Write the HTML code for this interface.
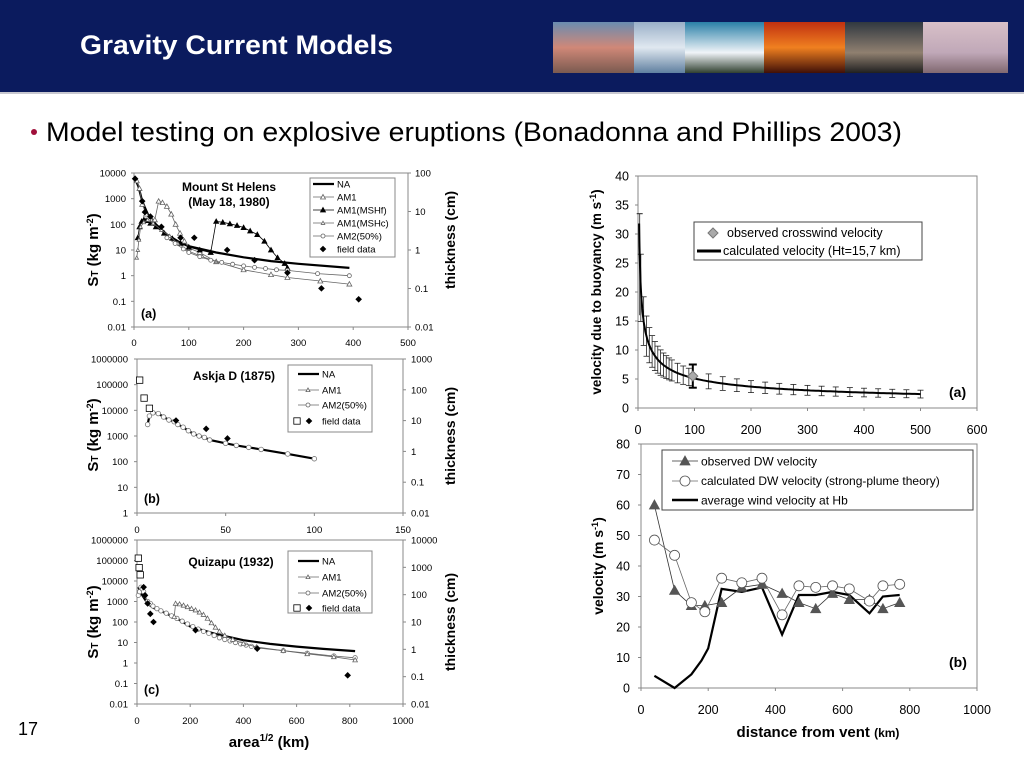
<!DOCTYPE html>
<html><head><meta charset="utf-8"><style>
body{margin:0;background:#fff;width:1024px;height:768px;overflow:hidden;font-family:"Liberation Sans",Arial,sans-serif}
svg{position:absolute;left:0;top:0}
</style></head><body>
<svg id="s" width="1024" height="768" viewBox="0 0 1024 768" font-family="Liberation Sans, Arial, sans-serif">
<defs>
<linearGradient id="g1" x1="0" y1="0" x2="0" y2="1"><stop offset="0" stop-color="#6a8cb0"/><stop offset="0.5" stop-color="#d08878"/><stop offset="1" stop-color="#7a5a50"/></linearGradient>
<linearGradient id="g2" x1="0" y1="0" x2="0" y2="1"><stop offset="0" stop-color="#9ab0c8"/><stop offset="0.5" stop-color="#e0e8f0"/><stop offset="1" stop-color="#6080a0"/></linearGradient>
<linearGradient id="g3" x1="0" y1="0" x2="0" y2="1"><stop offset="0" stop-color="#2a80a8"/><stop offset="0.6" stop-color="#f0f4f8"/><stop offset="1" stop-color="#304030"/></linearGradient>
<linearGradient id="g4" x1="0" y1="0" x2="0" y2="1"><stop offset="0" stop-color="#c03010"/><stop offset="0.5" stop-color="#f08020"/><stop offset="1" stop-color="#401008"/></linearGradient>
<linearGradient id="g5" x1="0" y1="0" x2="0" y2="1"><stop offset="0" stop-color="#303840"/><stop offset="0.6" stop-color="#908070"/><stop offset="1" stop-color="#202020"/></linearGradient>
<linearGradient id="g6" x1="0" y1="0" x2="0" y2="1"><stop offset="0" stop-color="#d8c0c8"/><stop offset="0.6" stop-color="#c0a8b8"/><stop offset="1" stop-color="#806870"/></linearGradient>
</defs>
<rect x="0" y="0" width="1024" height="92" fill="#0b1b5e"/>
<rect x="0" y="92" width="1024" height="2" fill="#c8c8d0"/>
<text x="80" y="54" fill="#fff" font-size="27" font-weight="bold" textLength="313" lengthAdjust="spacingAndGlyphs">Gravity Current Models</text>
<rect x="553" y="22" width="81" height="51" fill="url(#g1)"/>
<rect x="634" y="22" width="51" height="51" fill="url(#g2)"/>
<rect x="685" y="22" width="79" height="51" fill="url(#g3)"/>
<rect x="764" y="22" width="81" height="51" fill="url(#g4)"/>
<rect x="845" y="22" width="78" height="51" fill="url(#g5)"/>
<rect x="923" y="22" width="85" height="51" fill="url(#g6)"/>
<circle cx="34" cy="132" r="3" fill="#a0103a"/>
<text x="46" y="141" font-size="27" fill="#000" textLength="856" lengthAdjust="spacingAndGlyphs">Model testing on explosive eruptions (Bonadonna and Phillips 2003)</text>
<text x="18" y="735" font-size="18" fill="#000">17</text>
<g id="plots"></g>
</svg>
<script>
var NS="http://www.w3.org/2000/svg",P=document.getElementById('plots');
function el(t,a,txt){var e=document.createElementNS(NS,t);for(var k in a)e.setAttribute(k,a[k]);if(txt!=null)e.textContent=txt;P.appendChild(e);return e;}
function txt(x,y,s,o){o=o||{};var a={x:x,y:y,'font-size':o.fs||10,fill:'#000'};if(o.anchor)a['text-anchor']=o.anchor;if(o.bold)a['font-weight']='bold';if(o.rot)a.transform='rotate(-90 '+x+' '+y+')';return el('text',a,s);}
function line(pts,o){el('polyline',{points:pts.map(function(p){return p[0].toFixed(1)+','+p[1].toFixed(1)}).join(' '),fill:'none',stroke:o.c||'#000','stroke-width':o.w||1});}
function mark(x,y,t,sz,col){col=col||'#000';
 if(t=='o')el('circle',{cx:x,cy:y,r:sz,fill:'#fff',stroke:col,'stroke-width':0.8});
 else if(t=='to')el('polygon',{points:[x,y-sz,x-sz,y+sz*0.8,x+sz,y+sz*0.8].join(' '),fill:'#fff',stroke:col,'stroke-width':0.8});
 else if(t=='tf')el('polygon',{points:[x,y-sz,x-sz,y+sz*0.8,x+sz,y+sz*0.8].join(' '),fill:col,stroke:col,'stroke-width':0.8});
 else if(t=='d')el('polygon',{points:[x,y-sz,x+sz,y,x,y+sz,x-sz,y].join(' '),fill:col});
 else if(t=='s')el('rect',{x:x-sz,y:y-sz,width:2*sz,height:2*sz,fill:'#fff',stroke:col,'stroke-width':0.8});
}
function series(d,X,Y,o){var p=d.map(function(q){return[X(q[0]),Y(q[1])]});if(o.line!==false)line(p,o);if(o.m)p.forEach(function(q){mark(q[0],q[1],o.m,o.sz||2.5,o.mc)});}
function box(x0,y0,x1,y1){el('rect',{x:x0,y:y0,width:x1-x0,height:y1-y0,fill:'none',stroke:'#888','stroke-width':1});}
// ---------- chart a ----------
(function(){var x0=134,x1=408,y0=173,y1=327;
var X=function(v){return x0+v*(x1-x0)/500},Y=function(v){return y1-(Math.log10(v)+2)*(y1-y0)/6};
box(x0,y0,x1,y1);
var L=['0.01','0.1','1','10','100','1000','10000'],R=['0.01','0.1','1','10','100'];
for(var i=0;i<7;i++){var y=y1-i*(y1-y0)/6;txt(126,y+3.5,L[i],{anchor:'end',fs:9.5});el('line',{x1:x0-3,y1:y,x2:x0,y2:y,stroke:'#888'});}
for(var i=0;i<5;i++){var y=y1-i*(y1-y0)/4;txt(415,y+3.5,R[i],{fs:9.5});el('line',{x1:x1,y1:y,x2:x1+3,y2:y,stroke:'#888'});}
for(var i=0;i<=5;i++){var x=X(i*100);txt(x,346,String(i*100),{anchor:'middle',fs:9.5});el('line',{x1:x,y1:y1,x2:x,y2:y1+3,stroke:'#888'});}
series([[2,6000],[8,3000],[15,800],[25,250],[40,100],[60,40],[80,22],[100,14],[150,8],[200,5.2],[250,3.7],[300,2.9],[393,2]],X,Y,{w:2.2});
series([[5,5000],[10,2500],[15,600],[22,250],[30,160],[38,150],[45,800],[52,700],[60,500],[68,250],[76,100],[84,45],[92,22],[100,12],[120,8],[150,3.5],[200,1.7],[250,1.1],[280,0.85],[340,0.62],[393,0.47]],X,Y,{c:'#666',w:0.8,m:'to',sz:2.5,mc:'#666'});
series([[7,30],[10,80],[14,130],[18,150],[22,140],[30,110],[40,80],[55,45],[70,28],[85,18],[100,13],[120,10],[140,8],[150,130],[162,120],[175,105],[188,90],[200,75],[212,55],[225,40],[238,22],[250,10],[262,5],[275,3],[280,2]],X,Y,{c:'#000',w:0.8,m:'tf',sz:2.5});
series([[5,5],[7,10],[9,25],[12,80],[18,120],[25,150],[35,110],[50,60],[65,35],[80,18],[100,9],[125,5.5],[150,3.6]],X,Y,{c:'#666',w:0.8,m:'to',sz:1.8,mc:'#666'});
series([[60,30],[75,18],[90,11],[100,8],[120,5.5],[140,4],[160,3.3],[180,2.8],[200,2.4],[220,2.1],[240,1.9],[260,1.7],[280,1.6],[335,1.2],[393,1]],X,Y,{c:'#666',w:0.8,m:'o',sz:2,mc:'#666'});
[[2,6000],[15,800],[20,300],[30,200],[50,80],[85,30],[110,30],[170,10],[220,4],[280,1.3],[342,0.32],[410,0.12]].forEach(function(p){mark(X(p[0]),Y(p[1]),'d',3.3)});
box(310,178,395,257);
var ly=[184,197,210,223,236,249],ln=['NA','AM1','AM1(MSHf)','AM1(MSHc)','AM2(50%)','field data'];
for(var i=0;i<6;i++)txt(337,ly[i]+3.5,ln[i],{fs:9.5});
line([[313,ly[0]],[334,ly[0]]],{w:2.2});line([[313,ly[1]],[334,ly[1]]],{c:'#666',w:0.8});mark(323,ly[1],'to',2.5,'#666');
line([[313,ly[2]],[334,ly[2]]],{w:0.8});mark(323,ly[2],'tf',2.5);line([[313,ly[3]],[334,ly[3]]],{c:'#666',w:0.8});mark(323,ly[3],'to',1.8,'#666');
line([[313,ly[4]],[334,ly[4]]],{c:'#666',w:0.8});mark(323,ly[4],'o',2,'#666');mark(323,ly[5],'d',3.3);
txt(229,191,'Mount St Helens',{anchor:'middle',fs:12,bold:1});txt(229,206,'(May 18, 1980)',{anchor:'middle',fs:12,bold:1});
txt(141,318,'(a)',{fs:12.5,bold:1});
})();
// ---------- chart b ----------
(function(){var x0=137,x1=403,y0=359,y1=513;
var X=function(v){return x0+v*(x1-x0)/150},Y=function(v){return y1-Math.log10(v)*(y1-y0)/6};
box(x0,y0,x1,y1);
var L=['1','10','100','1000','10000','100000','1000000'],R=['0.01','0.1','1','10','100','1000'];
for(var i=0;i<7;i++){var y=y1-i*(y1-y0)/6;txt(128,y+3.5,L[i],{anchor:'end',fs:9.5});el('line',{x1:x0-3,y1:y,x2:x0,y2:y,stroke:'#888'});}
for(var i=0;i<6;i++){var y=y1-i*(y1-y0)/5;txt(411,y+3.5,R[i],{fs:9.5});el('line',{x1:x1,y1:y,x2:x1+3,y2:y,stroke:'#888'});}
for(var i=0;i<=3;i++){var x=X(i*50);txt(x,533,String(i*50),{anchor:'middle',fs:9.5});el('line',{x1:x,y1:y1,x2:x,y2:y1+3,stroke:'#888'});}
var d=[[6,2800],[7,6000],[9,8000],[12,7500],[15,5500],[18,4200],[21,3600],[23,2800],[26,2200],[29,1600],[32,1200],[35,1000],[38,880],[41,700],[50,520],[56,430],[63,360],[70,300],[85,200],[100,130]];
series(d,X,Y,{w:2.2});series(d,X,Y,{line:false,m:'o',sz:2.3,mc:'#777'});
[[1.5,150000],[4,30000],[7,12000]].forEach(function(p){mark(X(p[0]),Y(p[1]),'s',3.2)});
[[22,4000],[39,1900],[51,800]].forEach(function(p){mark(X(p[0]),Y(p[1]),'d',3.3)});
box(288,365,372,432);
var ly=[374,390,405,421];txt(322,ly[0]+3.5,'NA',{fs:9.5});txt(322,ly[1]+3.5,'AM1',{fs:9.5});txt(322,ly[2]+3.5,'AM2(50%)',{fs:9.5});txt(322,ly[3]+3.5,'field data',{fs:9.5});
line([[298,ly[0]],[319,ly[0]]],{w:2.2});line([[298,ly[1]],[319,ly[1]]],{c:'#666',w:0.8});mark(308,ly[1],'to',2,'#666');
line([[298,ly[2]],[319,ly[2]]],{c:'#666',w:0.8});mark(308,ly[2],'o',2,'#666');mark(297,ly[3],'s',3.2);mark(309,ly[3],'d',3.3);
txt(234,380,'Askja D (1875)',{anchor:'middle',fs:12,bold:1});txt(144,503,'(b)',{fs:12.5,bold:1});
})();
// ---------- chart c ----------
(function(){var x0=137,x1=403,y0=540,y1=704;
var X=function(v){return x0+v*(x1-x0)/1000},Y=function(v){return y1-(Math.log10(v)+2)*(y1-y0)/8};
box(x0,y0,x1,y1);
var L=['0.01','0.1','1','10','100','1000','10000','100000','1000000'],R=['0.01','0.1','1','10','100','1000','10000'];
for(var i=0;i<9;i++){var y=y1-i*(y1-y0)/8;txt(128,y+3.5,L[i],{anchor:'end',fs:9.5});el('line',{x1:x0-3,y1:y,x2:x0,y2:y,stroke:'#888'});}
for(var i=0;i<7;i++){var y=y1-i*(y1-y0)/6;txt(411,y+3.5,R[i],{fs:9.5});el('line',{x1:x1,y1:y,x2:x1+3,y2:y,stroke:'#888'});}
for(var i=0;i<=5;i++){var x=X(i*200);txt(x,724,String(i*200),{anchor:'middle',fs:9.5});el('line',{x1:x,y1:y1,x2:x,y2:y1+3,stroke:'#888'});}
series([[5,5000],[20,2000],[40,800],[60,500],[100,300],[150,150],[200,60],[300,25],[400,13],[500,8.5],[600,6.3],[700,4.9],[820,3.8]],X,Y,{w:2.2});
var am2=[[5,2000],[10,3000],[15,5000],[20,4000],[25,3000],[30,2000],[40,1000],[50,800],[60,600],[75,450],[90,350],[110,270],[130,200],[150,150],[170,110],[190,80],[210,60],[230,45],[250,35],[270,28],[290,22],[310,17],[330,14],[350,12],[370,10],[390,8.5],[410,7.5],[430,6.5],[450,5.5],[550,4],[640,3],[740,2.2],[820,1.8]];
series(am2,X,Y,{c:'#666',w:0.8,m:'o',sz:2.2,mc:'#777'});
series([[140,180],[145,800],[160,750],[175,650],[190,550],[205,450],[220,380],[235,300],[250,230],[265,150],[280,90],[295,55],[310,35],[330,22],[360,14],[400,9],[450,6],[550,4],[640,2.8],[740,2],[820,1.4]],X,Y,{c:'#666',w:0.8,m:'to',sz:2.3,mc:'#666'});
[[5,130000],[8,45000],[12,20000]].forEach(function(p){mark(X(p[0]),Y(p[1]),'s',3.2)});
[[25,5000],[30,2000],[40,800],[50,250],[62,100],[220,40],[452,5],[792,0.25]].forEach(function(p){mark(X(p[0]),Y(p[1]),'d',3.3)});
box(288,551,372,613);
var ly=[561,577,593,608];txt(322,ly[0]+3.5,'NA',{fs:9.5});txt(322,ly[1]+3.5,'AM1',{fs:9.5});txt(322,ly[2]+3.5,'AM2(50%)',{fs:9.5});txt(322,ly[3]+3.5,'field data',{fs:9.5});
line([[298,ly[0]],[319,ly[0]]],{w:2.2});line([[298,ly[1]],[319,ly[1]]],{c:'#666',w:0.8});mark(308,ly[1],'to',2,'#666');
line([[298,ly[2]],[319,ly[2]]],{c:'#666',w:0.8});mark(308,ly[2],'o',2,'#666');mark(297,ly[3],'s',3.2);mark(309,ly[3],'d',3.3);
txt(231,566,'Quizapu (1932)',{anchor:'middle',fs:12,bold:1});txt(144,694,'(c)',{fs:12.5,bold:1});
})();
[[98,250],[98,435],[98,622]].forEach(function(p){var t=txt(p[0],p[1],'',{anchor:'middle',fs:15,bold:1,rot:1});t.innerHTML='S<tspan font-size="10">T</tspan> (kg m<tspan font-size="9" dy="-5">-2</tspan><tspan dy="5">)</tspan>';});
txt(455,240,'thickness (cm)',{anchor:'middle',fs:14,bold:1,rot:1});
txt(455,436,'thickness (cm)',{anchor:'middle',fs:14,bold:1,rot:1});
txt(455,622,'thickness (cm)',{anchor:'middle',fs:14,bold:1,rot:1});
(function(){var t=txt(269,747,'',{anchor:'middle',fs:15,bold:1});t.innerHTML='area<tspan font-size="10" dy="-6">1/2</tspan><tspan dy="6"> (km)</tspan>';})();
// ---------- right top ----------
(function(){var x0=638,x1=977,y0=176,y1=408;
var X=function(v){return x0+v*(x1-x0)/600},Y=function(v){return y1-v*(y1-y0)/40};
box(x0,y0,x1,y1);
for(var i=0;i<=8;i++){var y=Y(i*5);txt(629,y+4.5,String(i*5),{anchor:'end',fs:12.5});el('line',{x1:x0-3,y1:y,x2:x0,y2:y,stroke:'#888'});}
for(var i=0;i<=6;i++){var x=X(i*100);txt(x,434,String(i*100),{anchor:'middle',fs:12.5});el('line',{x1:x,y1:y1,x2:x,y2:y1+3,stroke:'#888'});}
var f=function(x){return 44*Math.pow(x,-0.468)};
var xs=[5,10,15,20,25,30,35,40,45,50,55,60,70,80,90,125,150,175,200,225,250,275,300,325,350,375,400,425,450,475,500];
xs.forEach(function(x){var v=f(x),e=v*0.28,X0=X(x);el('line',{x1:X0,y1:Y(v+e),x2:X0,y2:Y(v-e),stroke:'#222','stroke-width':0.8});el('line',{x1:X0-3,y1:Y(v+e),x2:X0+3,y2:Y(v+e),stroke:'#222','stroke-width':0.8});el('line',{x1:X0-3,y1:Y(v-e),x2:X0+3,y2:Y(v-e),stroke:'#222','stroke-width':0.8});});
el('line',{x1:X(3),y1:Y(33.5),x2:X(3),y2:Y(16),stroke:'#222','stroke-width':0.8});el('line',{x1:X(3)-3,y1:Y(33.5),x2:X(3)+3,y2:Y(33.5),stroke:'#222'});
var pts=[];for(var x=2;x<=500;x+=(x<20?0.5:5))pts.push([X(x),Y(f(x))]);line(pts,{w:2});
el('line',{x1:X(97),y1:Y(7.5),x2:X(97),y2:Y(3.5),stroke:'#000','stroke-width':2});el('line',{x1:X(97)-4,y1:Y(7.5),x2:X(97)+4,y2:Y(7.5),stroke:'#000','stroke-width':2});el('line',{x1:X(97)-4,y1:Y(3.5),x2:X(97)+4,y2:Y(3.5),stroke:'#000','stroke-width':2});
el('polygon',{points:[X(97),Y(5.5)-5,X(97)+5,Y(5.5),X(97),Y(5.5)+5,X(97)-5,Y(5.5)].join(' '),fill:'#aaa',stroke:'#777'});
el('rect',{x:694,y:222,width:228,height:38,fill:'#fff',stroke:'#444'});
el('polygon',{points:'713,228 718,233 713,238 708,233',fill:'#aaa',stroke:'#777'});
line([[697,251],[721,251]],{w:3});
txt(727,237,'observed crosswind velocity',{fs:12.5});txt(723,255,'calculated velocity (Ht=15,7 km)',{fs:12.5});
txt(949,397,'(a)',{fs:14,bold:1});
var t=txt(601,292,'',{anchor:'middle',fs:13.5,bold:1,rot:1});t.innerHTML='velocity due to buoyancy (m s<tspan font-size="9" dy="-5">-1</tspan><tspan dy="5">)</tspan>';
})();
// ---------- right bottom ----------
(function(){var x0=641,x1=977,y0=444,y1=688;
var X=function(v){return x0+v*(x1-x0)/1000},Y=function(v){return y1-v*(y1-y0)/80};
box(x0,y0,x1,y1);
for(var i=0;i<=8;i++){var y=Y(i*10);txt(630,y+4.5,String(i*10),{anchor:'end',fs:12.5});el('line',{x1:x0-3,y1:y,x2:x0,y2:y,stroke:'#888'});}
for(var i=0;i<=5;i++){var x=X(i*200);txt(x,714,String(i*200),{anchor:'middle',fs:12.5});el('line',{x1:x,y1:y1,x2:x,y2:y1+3,stroke:'#888'});}
series([[40,4],[100,0],[150,4.5],[180,9],[200,13],[240,32.5],[300,31.5],[360,33],[420,17.5],[470,30.5],[520,30.5],[570,31.5],[620,30.5],[680,24.5],[720,30],[770,30.5]],X,Y,{w:2.2});
series([[40,60],[100,32],[150,27],[190,27],[240,28],[300,33],[360,34],[420,31],[470,28],[520,26],[570,31],[620,29],[680,29],[720,26],[770,28]],X,Y,{c:'#333',w:0.8,m:'tf',sz:5,mc:'#555'});
series([[40,48.5],[100,43.5],[150,28],[190,25],[240,36],[300,34.5],[360,36],[420,24],[470,33.5],[520,33],[570,33.5],[620,32.5],[680,28.5],[720,33.5],[770,34]],X,Y,{c:'#666',w:0.8,m:'o',sz:5,mc:'#555'});
el('rect',{x:662,y:450,width:311,height:60,fill:'#fff',stroke:'#444'});
line([[672,461],[698,461]],{c:'#333',w:0.8});mark(685,461,'tf',5,'#555');
line([[672,481],[698,481]],{c:'#666',w:0.8});mark(685,481,'o',5,'#555');
line([[672,500],[698,500]],{w:2.5});
txt(701,465.5,'observed DW velocity',{fs:12});txt(701,485,'calculated DW velocity (strong-plume theory)',{fs:12});txt(701,504.5,'average wind velocity at Hb',{fs:12});
txt(949,667,'(b)',{fs:14,bold:1});
var t=txt(603,566,'',{anchor:'middle',fs:14,bold:1,rot:1});t.innerHTML='velocity (m s<tspan font-size="9" dy="-5">-1</tspan><tspan dy="5">)</tspan>';
var t2=txt(818,737,'',{anchor:'middle',fs:15,bold:1});t2.innerHTML='distance from vent <tspan font-size="12">(km)</tspan>';
})();
</script>
</body></html>
